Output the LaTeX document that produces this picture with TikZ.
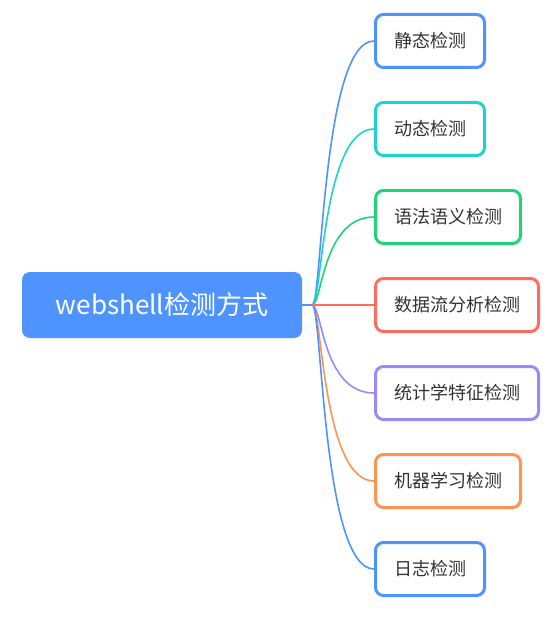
\documentclass[tikz,border=0pt]{standalone}
\usepackage{fontspec}
\setmainfont{Noto Sans CJK SC}
\usetikzlibrary{positioning}
\definecolor{mapblue}{HTML}{4E93FF}
\definecolor{mapcyan}{HTML}{1DD3CC}
\definecolor{mapgreen}{HTML}{1FD475}
\definecolor{mapred}{HTML}{FF6B5F}
\definecolor{mappurple}{HTML}{9C88F7}
\definecolor{maporange}{HTML}{FF9450}
\definecolor{maptext}{HTML}{333333}
\tikzset{
        x=1pt, y=-1pt, % one unit is one pixel of the picture
        node distance=32pt, % gap between two branch boxes
        root/.style={fill=mapblue, rounded corners=8pt, minimum width=280pt, minimum height=66pt, text=white, font=\fontsize{26}{30}\selectfont}, % the centre topic
        leaf/.style={draw=#1, line width=3pt, fill=white, rounded corners=8pt, minimum height=53pt, inner xsep=18.5pt, text=maptext, font=\fontsize{18}{22}\selectfont, anchor=north west}, % the branch boxes
        link/.style={draw=#1, line width=1.6pt}, % the curved connectors
        }
\begin{document}
\begin{tikzpicture}
        % tikz code goes here
        \useasboundingbox (0,0) rectangle (557,617);
        \node[root] (Root) at (162,305) {webshell检测方式};
        \coordinate (Fork) at ([xshift=10pt]Root.east);

        \node[leaf=mapblue] (Static) at (374,13) {静态检测};
        \node[leaf=mapcyan, below=of Static.south west, anchor=north west] (Dynamic) {动态检测};
        \node[leaf=mapgreen, below=of Dynamic.south west, anchor=north west] (Syntax) {语法语义检测};
        \node[leaf=mapred, below=of Syntax.south west, anchor=north west] (Dataflow) {数据流分析检测};
        \node[leaf=mappurple, below=of Dataflow.south west, anchor=north west] (Statistic) {统计学特征检测};
        \node[leaf=maporange, below=of Statistic.south west, anchor=north west] (Learning) {机器学习检测};
        \node[leaf=mapblue, below=of Learning.south west, anchor=north west] (Log) {日志检测};

        \draw[link=mapblue] (Root.east) -- (Fork);
        \draw[link=mapblue] (Fork) .. controls +(10,0) and +(-52,0) .. (Static.west);
        \draw[link=mapcyan] (Fork) .. controls +(10,0) and +(-52,0) .. (Dynamic.west);
        \draw[link=mapgreen] (Fork) .. controls +(10,0) and +(-52,0) .. (Syntax.west);
        \draw[link=mappurple] (Fork) .. controls +(10,0) and +(-52,0) .. (Statistic.west);
        \draw[link=maporange] (Fork) .. controls +(10,0) and +(-52,0) .. (Learning.west);
        \draw[link=mapblue] (Fork) .. controls +(10,0) and +(-52,0) .. (Log.west);
        \draw[link=mapred] (Fork) -- (Dataflow.west);
\end{tikzpicture}
\end{document}
